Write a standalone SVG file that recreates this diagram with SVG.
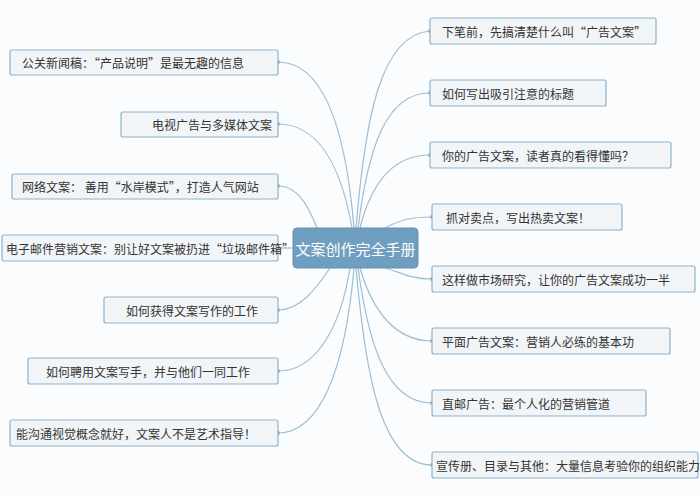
<svg xmlns="http://www.w3.org/2000/svg" width="700" height="496" viewBox="0 0 700 496">
<style>
.n rect{fill:#f1f5f8;stroke:#8db1cc;stroke-width:1.2}
.n text{font-family:"Noto Sans CJK SC","Liberation Sans",sans-serif;font-size:12px;fill:#333;dominant-baseline:central}
.c path{fill:none;stroke:#9dbdd4;stroke-width:1.2}
.c circle{fill:#8db1cc}
</style>
<rect width="700" height="496" fill="#fbfcfd"/>
<g class="c">
<path d="M356 228 C365 120 380 35 430 31"/>
<path d="M358 228 C368 150 385 93 430 93"/>
<path d="M360 228 C372 180 395 155 430 155"/>
<path d="M385 228 C400 220 410 217 432 217"/>
<path d="M385 268 C400 272 410 279 432 279"/>
<path d="M360 268 C372 310 395 341 432 341"/>
<path d="M358 268 C368 340 385 403 432 403"/>
<path d="M356 268 C365 370 380 465 432 465"/>
<path d="M354 228 C345 120 320 62 278 62"/>
<path d="M352 228 C340 160 315 124 278 124"/>
<path d="M320 235 C310 210 300 186 278 186"/>
<path d="M293 248 L278 248"/>
<path d="M330 268 C315 290 300 310 278 310"/>
<path d="M350 268 C340 330 315 371 278 371"/>
<path d="M354 268 C345 370 320 433 278 433"/>
<circle cx="430" cy="31" r="2"/><circle cx="430" cy="93" r="2"/><circle cx="430" cy="155" r="2"/><circle cx="432" cy="217" r="2"/><circle cx="432" cy="279" r="2"/><circle cx="432" cy="341" r="2"/><circle cx="432" cy="403" r="2"/><circle cx="432" cy="465" r="2"/>
<circle cx="278" cy="62" r="2"/><circle cx="278" cy="124" r="2"/><circle cx="278" cy="186" r="2"/><circle cx="278" cy="248" r="2"/><circle cx="278" cy="310" r="2"/><circle cx="278" cy="371" r="2"/><circle cx="278" cy="433" r="2"/>
</g>
<g id="center"><rect x="293" y="228" width="125" height="40" rx="4" fill="#6f9ec0" stroke="#6391b3"/><text x="355.5" y="248" text-anchor="middle" dominant-baseline="central" font-family="Noto Sans CJK SC,sans-serif" font-size="15" fill="#fff">文案创作完全手册</text></g>
<g id="r1" class="n"><rect x="430" y="18" width="226" height="26" rx="2"/><text x="442" y="31">下笔前，先搞清楚什么叫“广告文案”</text></g>
<g id="r2" class="n"><rect x="430" y="80" width="176" height="26" rx="2"/><text x="442" y="93">如何写出吸引注意的标题</text></g>
<g id="r3" class="n"><rect x="430" y="142" width="241" height="26" rx="2"/><text x="442" y="155">你的广告文案，读者真的看得懂吗？</text></g>
<g id="r4" class="n"><rect x="432" y="204" width="190" height="26" rx="2"/><text x="446" y="217">抓对卖点，写出热卖文案！</text></g>
<g id="r5" class="n"><rect x="432" y="266" width="263" height="26" rx="2"/><text x="442" y="279">这样做市场研究，让你的广告文案成功一半</text></g>
<g id="r6" class="n"><rect x="432" y="328" width="238" height="26" rx="2"/><text x="442" y="341">平面广告文案：营销人必练的基本功</text></g>
<g id="r7" class="n"><rect x="432" y="390" width="214" height="26" rx="2"/><text x="442" y="403">直邮广告：最个人化的营销管道</text></g>
<g id="r8" class="n"><rect x="432" y="452" width="266" height="26" rx="2"/><text x="436" y="465">宣传册、目录与其他：大量信息考验你的组织能力</text></g>
<g id="l1" class="n"><rect x="10" y="50" width="268" height="25" rx="2"/><text x="22" y="62">公关新闻稿：“产品说明”是最无趣的信息</text></g>
<g id="l2" class="n"><rect x="121" y="112" width="157" height="25" rx="2"/><text x="272" y="124" text-anchor="end">电视广告与多媒体文案</text></g>
<g id="l3" class="n"><rect x="12" y="174" width="266" height="25" rx="2"/><text x="22" y="186">网络文案： 善用“水岸模式”，打造人气网站</text></g>
<g id="l4" class="n"><rect x="2" y="235" width="276" height="26" rx="2"/><text x="6" y="248">电子邮件营销文案：别让好文案被扔进“垃圾邮件箱”</text></g>
<g id="l5" class="n"><rect x="104" y="297" width="174" height="26" rx="2"/><text x="126" y="310">如何获得文案写作的工作</text></g>
<g id="l6" class="n"><rect x="28" y="358" width="250" height="26" rx="2"/><text x="46" y="371">如何聘用文案写手，并与他们一同工作</text></g>
<g id="l7" class="n"><rect x="10" y="420" width="268" height="26" rx="2"/><text x="16" y="433">能沟通视觉概念就好，文案人不是艺术指导！</text></g>
</svg>
